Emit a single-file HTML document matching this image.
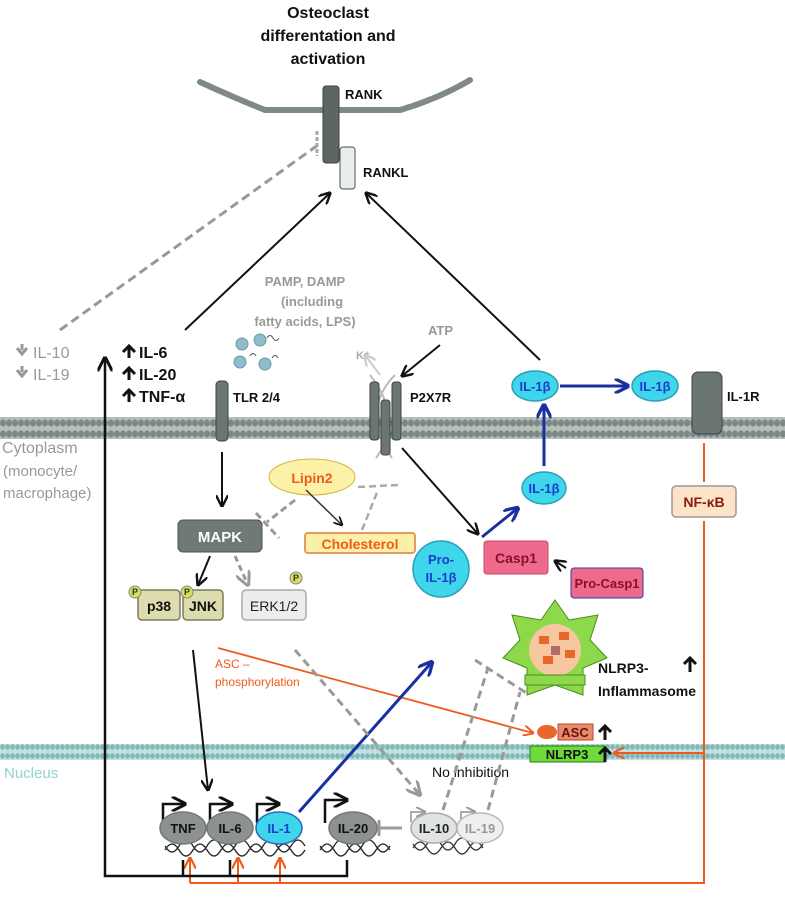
<!DOCTYPE html>
<html><head><meta charset="utf-8"><style>
body{margin:0;background:#fff}
svg{display:block}
text{font-family:"Liberation Sans",sans-serif}
.b{font-weight:bold}
</style></head><body>
<svg width="785" height="906" viewBox="0 0 785 906" xmlns="http://www.w3.org/2000/svg">
<defs>
<pattern id="mem" width="6" height="22" patternUnits="userSpaceOnUse">
<rect width="6" height="22" fill="#b6bebc"/>
<ellipse cx="3" cy="5" rx="3" ry="3.6" fill="#7d8886"/><ellipse cx="3" cy="16" rx="3" ry="3.6" fill="#7d8886"/>
</pattern>
<pattern id="nuc" width="5" height="16" patternUnits="userSpaceOnUse">
<rect width="5" height="16" fill="#c2e0df"/>
<ellipse cx="2.5" cy="4" rx="2.3" ry="2.8" fill="#7fb8b6"/><ellipse cx="2.5" cy="11" rx="2.3" ry="2.8" fill="#7fb8b6"/>
</pattern>
<marker id="ab" viewBox="0 0 10 10" refX="9" refY="5" markerWidth="6" markerHeight="6" orient="auto"><path d="M0,0 L10,5 L0,10" fill="none" stroke="#111" stroke-width="2"/></marker>
<marker id="ag" viewBox="0 0 10 10" refX="9" refY="5" markerWidth="5" markerHeight="5" orient="auto"><path d="M0,0 L10,5 L0,10" fill="none" stroke="#999" stroke-width="2"/></marker>
<marker id="abl" viewBox="0 0 10 10" refX="9" refY="5" markerWidth="5" markerHeight="5" orient="auto"><path d="M0,0 L10,5 L0,10" fill="none" stroke="#1a2fa0" stroke-width="2.2"/></marker>
<marker id="ao" viewBox="0 0 10 10" refX="9" refY="5" markerWidth="6" markerHeight="6" orient="auto"><path d="M0,0 L10,5 L0,10" fill="none" stroke="#f05a1e" stroke-width="1.8"/></marker>
<marker id="aw" viewBox="0 0 10 10" refX="9" refY="5" markerWidth="6" markerHeight="6" orient="auto"><path d="M0,0 L10,5 L0,10" fill="none" stroke="#ccc" stroke-width="2"/></marker>
</defs>

<g class="b" font-size="16" text-anchor="middle" fill="#111">
<text x="328" y="18" class="b">Osteoclast</text>
<text x="328" y="41" class="b">differentation and</text>
<text x="328" y="64" class="b">activation</text>
</g>
<path d="M200,82 Q235,98 265,110 L400,110 Q440,98 470,80" fill="none" stroke="#7f8a88" stroke-width="6" stroke-dasharray="6,1.5" stroke-linecap="round"/>
<rect x="323" y="86" width="16" height="77" rx="3" fill="#5d6664" stroke="#3b4342"/>
<rect x="340" y="147" width="15" height="42" rx="3" fill="#e8eeec" stroke="#4b5352"/>
<text x="345" y="99" font-size="13" class="b" fill="#111">RANK</text>
<text x="363" y="177" font-size="13" class="b" fill="#111">RANKL</text>

<rect x="0" y="417" width="785" height="22" fill="url(#mem)"/>
<rect x="0" y="744" width="785" height="16" fill="url(#nuc)"/>

<path d="M60,330 L318,145" stroke="#999" stroke-width="3" stroke-dasharray="9,5" fill="none"/>
<path d="M317,131 L317,156" stroke="#aaa" stroke-width="3" stroke-dasharray="4,2"/>
<path d="M185,330 L330,193" stroke="#111" stroke-width="2" fill="none" marker-end="url(#ab)"/>
<path d="M540,360 L366,193" stroke="#111" stroke-width="2" fill="none" marker-end="url(#ab)"/>

<g font-size="13" class="b" fill="#999" text-anchor="middle">
<text x="305" y="286">PAMP, DAMP</text>
<text x="312" y="306">(including</text>
<text x="305" y="326">fatty acids, LPS)</text>
</g>
<g fill="#8fbcc8" stroke="#6a98a6">
<circle cx="242" cy="344" r="6"/><circle cx="260" cy="340" r="6"/><circle cx="240" cy="362" r="6"/><circle cx="265" cy="364" r="6"/>
</g>
<path d="M267,338 q3,-5 6,0 q3,5 6,0 M250,356 q3,-5 6,0 M272,358 q3,-5 6,0" stroke="#556" fill="none" stroke-width="1"/>
<text x="428" y="335" font-size="13" class="b" fill="#999">ATP</text>
<path d="M440,345 L402,376" stroke="#111" stroke-width="2" marker-end="url(#ab)"/>
<text x="356" y="359" font-size="11" class="b" fill="#aaa">K⁺</text>

<g font-size="16" fill="#999">
<text x="33" y="358">IL-10</text><text x="33" y="380">IL-19</text>
</g>
<path d="M22,350 l0,-6 M17,348 l5,6 l5,-6 M22,372 l0,-6 M17,370 l5,6 l5,-6" stroke="#999" stroke-width="3" fill="none"/>
<g font-size="16" class="b" fill="#111">
<text x="139" y="358">IL-6</text><text x="139" y="380">IL-20</text><text x="139" y="402">TNF-α</text>
</g>
<path d="M129,358 l0,-12 M123,352 l6,-6 l6,6 M129,380 l0,-12 M123,374 l6,-6 l6,6 M129,402 l0,-12 M123,396 l6,-6 l6,6" stroke="#111" stroke-width="3" fill="none"/>

<rect x="216" y="381" width="12" height="60" rx="4" fill="#6b7573" stroke="#3b4342"/>
<text x="233" y="402" font-size="13" class="b" fill="#111">TLR 2/4</text>

<path d="M395,375 Q360,410 392,458 M370,375 Q405,420 376,458" stroke="#bbb" stroke-width="2" fill="none"/>
<path d="M380,375 L365,355" stroke="#ccc" stroke-width="2" marker-end="url(#aw)"/>
<rect x="370" y="382" width="9" height="58" rx="3" fill="#6b7573" stroke="#3b4342"/>
<rect x="381" y="400" width="9" height="55" rx="3" fill="#6b7573" stroke="#3b4342"/>
<rect x="392" y="382" width="9" height="58" rx="3" fill="#6b7573" stroke="#3b4342"/>
<text x="410" y="402" font-size="13" class="b" fill="#111">P2X7R</text>

<g fill="#3fd6ec" stroke="#2a9fb6" stroke-width="1.5">
<ellipse cx="535" cy="386" rx="23" ry="15"/>
<ellipse cx="655" cy="386" rx="23" ry="15"/>
<ellipse cx="544" cy="488" rx="22" ry="16"/>
<circle cx="441" cy="569" r="28"/>
</g>
<g font-size="13" class="b" fill="#1a3bd0" text-anchor="middle">
<text x="535" y="391">IL-1β</text><text x="655" y="391">IL-1β</text><text x="544" y="493">IL-1β</text>
<text x="441" y="564">Pro-</text><text x="441" y="582">IL-1β</text>
</g>
<path d="M560,386 L628,386" stroke="#1a2fa0" stroke-width="3" marker-end="url(#abl)"/>
<path d="M544,466 L544,405" stroke="#1a2fa0" stroke-width="3" marker-end="url(#abl)"/>
<path d="M482,537 L518,508" stroke="#1a2fa0" stroke-width="3" marker-end="url(#abl)"/>
<rect x="692" y="372" width="30" height="62" rx="6" fill="#6b7573" stroke="#3b4342"/>
<text x="727" y="401" font-size="13" class="b" fill="#111">IL-1R</text>

<g font-size="16" fill="#999"><text x="2" y="453">Cytoplasm</text></g>
<g font-size="15" fill="#999"><text x="3" y="476">(monocyte/</text><text x="3" y="498">macrophage)</text></g>

<path d="M222,452 L222,506" stroke="#111" stroke-width="2" marker-end="url(#ab)"/>
<rect x="178" y="520" width="84" height="32" rx="5" fill="#6f7977" stroke="#4b5352"/>
<text x="220" y="542" font-size="15" class="b" fill="#fff" text-anchor="middle">MAPK</text>
<ellipse cx="312" cy="477" rx="43" ry="18" fill="#fbf2a8" stroke="#d9b24a"/>
<text x="312" y="483" font-size="14" class="b" fill="#f05a1e" text-anchor="middle">Lipin2</text>
<rect x="305" y="533" width="110" height="20" rx="3" fill="#fcf0a6" stroke="#e39a6a" stroke-width="2"/>
<text x="360" y="549" font-size="14" class="b" fill="#f05a1e" text-anchor="middle">Cholesterol</text>
<path d="M306,490 L342,525" stroke="#334" stroke-width="1.5" marker-end="url(#ab)"/>
<path d="M295,500 L267,522 M256,513 L279,538" stroke="#999" stroke-width="3" stroke-dasharray="7,4"/>
<path d="M362,530 L378,490 M358,487 L398,485" stroke="#aaa" stroke-width="2.5" stroke-dasharray="7,4"/>

<path d="M402,448 L478,534" stroke="#111" stroke-width="2" marker-end="url(#ab)"/>

<path d="M210,556 L198,585" stroke="#111" stroke-width="2" marker-end="url(#ab)"/>
<path d="M235,556 L248,585" stroke="#999" stroke-width="3" stroke-dasharray="6,4" marker-end="url(#ag)"/>
<rect x="138" y="590" width="42" height="30" rx="4" fill="#dcdcae" stroke="#7b7b5a" stroke-width="1.5"/>
<rect x="183" y="590" width="40" height="30" rx="4" fill="#dcdcae" stroke="#7b7b5a" stroke-width="1.5"/>
<rect x="242" y="590" width="64" height="30" rx="4" fill="#eceeee" stroke="#aaa" stroke-width="1.5"/>
<text x="159" y="611" font-size="14" class="b" fill="#111" text-anchor="middle">p38</text>
<text x="203" y="611" font-size="14" class="b" fill="#111" text-anchor="middle">JNK</text>
<text x="274" y="611" font-size="14" fill="#222" text-anchor="middle">ERK1/2</text>
<g fill="#d6e05a" stroke="#888"><circle cx="135" cy="592" r="6"/><circle cx="187" cy="592" r="6"/><circle cx="296" cy="578" r="6"/></g>
<g font-size="9" class="b" fill="#333" text-anchor="middle"><text x="135" y="595">P</text><text x="187" y="595">P</text><text x="296" y="581">P</text></g>

<rect x="484" y="541" width="64" height="33" rx="3" fill="#ee6a8d" stroke="#c9466a"/>
<text x="516" y="563" font-size="14" class="b" fill="#8a1028" text-anchor="middle">Casp1</text>
<rect x="571" y="568" width="72" height="30" rx="3" fill="#ee6a8d" stroke="#3a3a9a"/>
<text x="607" y="588" font-size="13" class="b" fill="#8a1028" text-anchor="middle">Pro-Casp1</text>
<path d="M566,568 L555,561" stroke="#111" stroke-width="2" marker-end="url(#ab)"/>

<g transform="translate(555,650)">
<polygon points="0,-50 14,-30 43,-35 35,-10 52,8 28,18 28,45 0,35 -28,45 -28,18 -52,8 -35,-10 -43,-35 -14,-30" fill="#8ed94a" stroke="#4a8a1e"/>
<circle r="26" fill="#f7c8a0"/>
<g fill="#e7682a"><rect x="-16" y="-14" width="10" height="8"/><rect x="4" y="-18" width="10" height="8"/><rect x="10" y="0" width="10" height="8"/><rect x="-12" y="6" width="10" height="8"/><rect x="-4" y="-4" width="9" height="9" fill="#b56a6a"/></g>
<rect x="-30" y="25" width="60" height="10" fill="#8ed94a" stroke="#4a8a1e"/>
</g>
<text x="598" y="673" font-size="14" class="b" fill="#111">NLRP3-</text>
<text x="598" y="696" font-size="14" class="b" fill="#111">Inflammasome</text>
<path d="M690,672 l0,-14 M684,664 l6,-6 l6,6" stroke="#111" stroke-width="3" fill="none"/>

<ellipse cx="547" cy="732" rx="10" ry="7" fill="#e7682a"/>
<rect x="558" y="724" width="35" height="16" fill="#e98a6a" stroke="#b84a2a"/>
<text x="575" y="737" font-size="13" class="b" fill="#6a1010" text-anchor="middle">ASC</text>
<rect x="530" y="746" width="75" height="16" fill="#6edb3a" stroke="#2a7a1a"/>
<text x="567" y="759" font-size="13" class="b" fill="#111" text-anchor="middle">NLRP3</text>
<path d="M605,740 l0,-14 M599,732 l6,-6 l6,6 M605,762 l0,-14 M599,754 l6,-6 l6,6" stroke="#111" stroke-width="3" fill="none"/>

<path d="M218,648 L533,733" stroke="#f05a1e" stroke-width="1.8" marker-end="url(#ao)"/>
<text x="215" y="668" font-size="12" fill="#f05a1e">ASC –</text>
<text x="215" y="686" font-size="12" fill="#f05a1e">phosphorylation</text>

<rect x="672" y="486" width="64" height="31" rx="4" fill="#fde3c8" stroke="#999" stroke-width="1.5"/>
<text x="704" y="507" font-size="14" class="b" fill="#8a1a10" text-anchor="middle">NF-κB</text>
<path d="M704,443 L704,482 M704,521 L704,883 L190,883" stroke="#f05a1e" stroke-width="2" fill="none"/>
<path d="M704,753 L614,753" stroke="#f05a1e" stroke-width="2" marker-end="url(#ao)"/>
<path d="M190,883 L190,858" stroke="#f05a1e" stroke-width="2" marker-end="url(#ao)"/>
<path d="M238,883 L238,858" stroke="#f05a1e" stroke-width="2" marker-end="url(#ao)"/>
<path d="M280,883 L280,858" stroke="#f05a1e" stroke-width="2" marker-end="url(#ao)"/>

<text x="4" y="778" font-size="15" fill="#8ed4d0">Nucleus</text>
<text x="432" y="777" font-size="14" fill="#111">No inhibition</text>

<path d="M193,650 L208,790" stroke="#111" stroke-width="2" marker-end="url(#ab)"/>
<path d="M299,812 L432,662" stroke="#1a2fa0" stroke-width="3" marker-end="url(#abl)"/>
<path d="M295,650 L420,795" stroke="#999" stroke-width="3" stroke-dasharray="8,5" marker-end="url(#ag)"/>
<path d="M443,810 L488,668 M475,660 L528,694 M488,810 L520,692" stroke="#999" stroke-width="3" stroke-dasharray="8,5" fill="none"/>

<path d="M165,850 q7,-12 14,0 t14,0 t14,0 t14,0 t14,0 t14,0 t14,0 t14,0 t14,0 t14,0 M165,846 q7,12 14,0 t14,0 t14,0 t14,0 t14,0 t14,0 t14,0 t14,0 t14,0 t14,0" stroke="#222" stroke-width="1.3" fill="none"/>
<path d="M320,850 q7,-12 14,0 t14,0 t14,0 t14,0 t14,0 M320,846 q7,12 14,0 t14,0 t14,0 t14,0 t14,0" stroke="#222" stroke-width="1.3" fill="none"/>
<path d="M413,848 q7,-12 14,0 t14,0 t14,0 t14,0 t14,0 M413,844 q7,12 14,0 t14,0 t14,0 t14,0 t14,0" stroke="#333" stroke-width="1.3" fill="none"/>
<g stroke="#111" stroke-width="2.5" fill="none">
<path d="M163,823 L163,804 L185,804" marker-end="url(#ab)"/>
<path d="M210,823 L210,804 L232,804" marker-end="url(#ab)"/>
<path d="M257,823 L257,804 L279,804" marker-end="url(#ab)"/>
<path d="M325,823 L325,800 L347,800" marker-end="url(#ab)"/>
</g>
<path d="M411,822 L411,812 L425,812" stroke="#aaa" stroke-width="2" fill="none" marker-end="url(#ag)"/>
<path d="M461,822 L461,812 L475,812" stroke="#aaa" stroke-width="2" fill="none" marker-end="url(#ag)"/>
<g stroke="#777" stroke-width="1.5">
<ellipse cx="183" cy="828" rx="23" ry="16" fill="#8c9290"/>
<ellipse cx="230" cy="828" rx="23" ry="16" fill="#8c9290"/>
<ellipse cx="279" cy="828" rx="23" ry="16" fill="#3fd6ec" stroke="#2a6ab6"/>
<ellipse cx="353" cy="828" rx="24" ry="16" fill="#8c9290"/>
<ellipse cx="434" cy="828" rx="23" ry="15" fill="#dfe3e2" stroke="#aaa"/>
<ellipse cx="480" cy="828" rx="23" ry="15" fill="#eef0ef" stroke="#bbb"/>
</g>
<g font-size="13" class="b" text-anchor="middle">
<text x="183" y="833" fill="#111">TNF</text><text x="230" y="833" fill="#111">IL-6</text>
<text x="279" y="833" fill="#1a3bd0">IL-1</text><text x="353" y="833" fill="#111">IL-20</text>
<text x="434" y="833" fill="#222">IL-10</text><text x="480" y="833" fill="#999">IL-19</text>
</g>
<path d="M402,828 L380,828 M379,820 L379,836" stroke="#999" stroke-width="3"/>

<path d="M347,860 L347,876 L105,876 L105,358" stroke="#111" stroke-width="2.5" fill="none" marker-end="url(#ab)"/>
<path d="M183,860 L183,876 M230,860 L230,876" stroke="#111" stroke-width="2.5"/>
</svg>
</body></html>
